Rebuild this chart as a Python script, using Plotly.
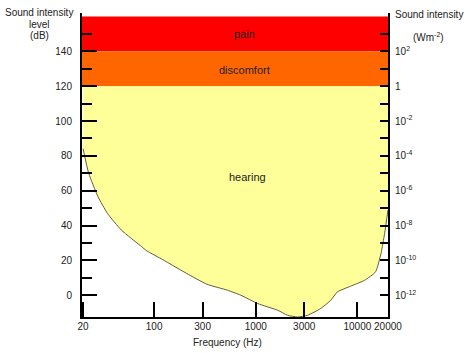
import math
import plotly.graph_objects as go

# Hearing threshold curve (frequency Hz, sound intensity level dB)
freq = [20, 22.7, 28, 34.7, 47.6, 75.5, 84.5, 121, 132, 209, 331, 525, 713,
        1047, 1643, 2060, 2584, 3230, 4365, 5470, 6360, 8590, 11800, 15100,
        17100, 18550, 20000]
threshold_db = [84, 70, 56.6, 47, 37.4, 27.8, 25.5, 20.5, 19.2, 12.5, 6.3, 2.9, 0,
                -4.8, -8.6, -11.5, -12.5, -11.5, -7.6, -2.9, 1.9, 5.2, 8.6, 13.4,
                24, 35.5, 48.9]

# Bands (label, lower dB, upper dB)
band_labels = ["pain", "discomfort"]
band_low = [140, 120]
band_high = [160, 140]
band_label_db = [150, 129]
hearing_top = 120
hearing_label_db = 68

# Axis ticks
x_tickvals = [20, 100, 300, 1000, 3000, 10000, 20000]
x_ticktext = ["20", "100", "300", "1000", "3000", "10000", "20000"]
y_tickvals = [0, 20, 40, 60, 80, 100, 120, 140]
intensity_exp = [-12, -10, -8, -6, -4, -2, 0, 2]

band_colors = ["#FF0000", "#FF6600"]
yellow = "#FFFF99"
FONT = "Arial, Liberation Sans, sans-serif"
TXT = "#222222"

W, H = 474, 353
L, R, T, B = 82, 86, 13, 36
PW, PH = W - L - R, H - T - B


def px(x, y):
    return (x - L) / PW, (H - B - y) / PH


fig = go.Figure()

# Yellow hearing region (curve up to 120 dB)
fig.add_trace(go.Scatter(
    x=freq + [freq[-1], freq[0]],
    y=threshold_db + [hearing_top, hearing_top],
    fill="toself", fillcolor=yellow, mode="lines",
    line=dict(width=0, color=yellow), hoverinfo="skip", showlegend=False))

# Threshold curve
fig.add_trace(go.Scatter(
    x=freq, y=threshold_db, mode="lines",
    line=dict(color="#5e5e35", width=1, shape="spline", smoothing=0.5),
    showlegend=False))

# invisible trace for right axis
fig.add_trace(go.Scatter(x=[freq[0]], y=[0], yaxis="y2", mode="markers",
                         marker=dict(opacity=0), showlegend=False, hoverinfo="skip"))

shapes = []
for lo, hi, c in zip(band_low, band_high, band_colors):
    shapes.append(dict(type="rect", xref="paper", x0=0, x1=1, yref="y", y0=lo, y1=hi,
                       fillcolor=c, line=dict(width=0), layer="below"))

annotations = []
for lab, ydb in zip(band_labels, band_label_db):
    annotations.append(dict(text=lab, xref="paper", x=(244 - L) / PW, yref="y", y=ydb,
                            showarrow=False, font=dict(family=FONT, size=11, color=TXT)))
annotations.append(dict(text="hearing", xref="paper", x=(247 - L) / PW, yref="y",
                        y=hearing_label_db, showarrow=False,
                        font=dict(family=FONT, size=11, color=TXT)))

for txt, xx, yy in [("Sound intensity", 39, 12.7), ("level", 39, 24), ("(dB)", 39, 35.3)]:
    ax, ay = px(xx, yy)
    annotations.append(dict(text=txt, xref="paper", yref="paper", x=ax, y=ay,
                            xanchor="center", yanchor="middle", showarrow=False,
                            font=dict(family=FONT, size=10, color=TXT)))
ax, ay = px(393, 15)
annotations.append(dict(text="Sound intensity", xref="paper", yref="paper", x=ax, y=ay,
                        xanchor="left", yanchor="middle", showarrow=False,
                        font=dict(family=FONT, size=10, color=TXT)))
ax, ay = px(428, 37)
annotations.append(dict(text="(Wm<sup>-2</sup>)", xref="paper", yref="paper", x=ax, y=ay,
                        xanchor="center", yanchor="middle", showarrow=False,
                        font=dict(family=FONT, size=10, color=TXT)))
ax, ay = px(227, 342)
annotations.append(dict(text="Frequency (Hz)", xref="paper", yref="paper", x=ax, y=ay,
                        xanchor="center", yanchor="middle", showarrow=False,
                        font=dict(family=FONT, size=10, color=TXT)))

yr = [-12.5, 162]
fig.update_layout(
    width=W, height=H, margin=dict(l=L, r=R, t=T, b=B, pad=0),
    paper_bgcolor="white", plot_bgcolor="white",
    shapes=shapes, annotations=annotations,
    xaxis=dict(type="log", range=[1.29, math.log10(20000) + 0.0005],
               tickmode="array", tickvals=x_tickvals, ticktext=x_ticktext,
               ticks="inside", ticklen=15, tickwidth=2, tickcolor="black",
               showline=True, linecolor="black", linewidth=2, showgrid=False,
               zeroline=False, tickfont=dict(family=FONT, size=10, color=TXT),
               ticklabelstandoff=-1),
    yaxis=dict(range=yr, tickmode="array", tickvals=y_tickvals,
               ticks="inside", ticklen=15, tickwidth=2, tickcolor="black",
               minor=dict(tickmode="array", tickvals=[10, 30, 50, 70, 90, 110, 130, 150],
                          ticks="inside", ticklen=10, tickwidth=2, tickcolor="black"),
               showline=True, linecolor="black", linewidth=2, showgrid=False,
               zeroline=False, tickfont=dict(family=FONT, size=10, color=TXT),
               ticklabelstandoff=6),
    yaxis2=dict(range=yr, overlaying="y", side="right", tickmode="array",
                tickvals=y_tickvals,
                ticktext=["1" if e == 0 else f"10<sup>{e}</sup>" for e in intensity_exp],
                ticks="inside", ticklen=8, tickwidth=2, tickcolor="black",
                minor=dict(tickmode="array", tickvals=[10, 30, 50, 70, 90, 110, 130, 150],
                           ticks="inside", ticklen=8, tickwidth=2, tickcolor="black"),
                showline=True, linecolor="black", linewidth=2, showgrid=False,
                zeroline=False, tickfont=dict(family=FONT, size=10, color=TXT),
                ticklabelstandoff=3),
)

fig.write_html("out.html")
